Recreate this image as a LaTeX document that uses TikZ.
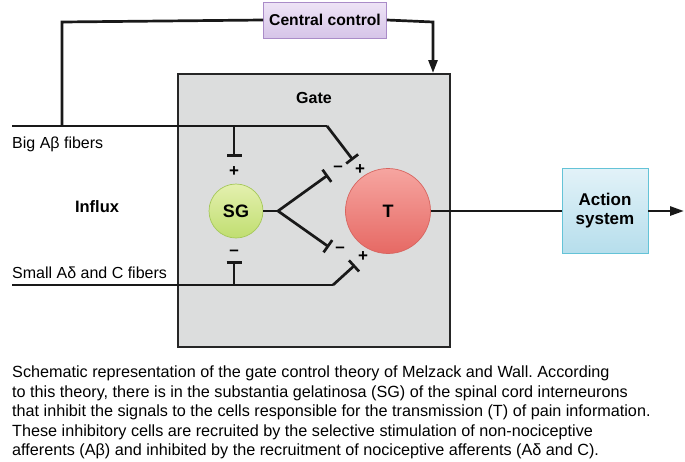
\documentclass[tikz,border=0pt]{standalone}
\usepackage{fontspec}
\setmainfont{Liberation Sans}
\usetikzlibrary{arrows.meta, positioning}
\frenchspacing

\definecolor{gatefill}{RGB}{220,221,221}
\definecolor{cctop}{RGB}{238,228,246}
\definecolor{ccbot}{RGB}{214,196,232}
\definecolor{ccline}{RGB}{170,140,200}
\definecolor{sgtop}{RGB}{228,240,175}
\definecolor{sgbot}{RGB}{192,222,112}
\definecolor{sgline}{RGB}{165,200,90}
\definecolor{ttop}{RGB}{246,165,160}
\definecolor{tbot}{RGB}{230,105,100}
\definecolor{tline}{RGB}{215,100,95}
\definecolor{actop}{RGB}{226,242,248}
\definecolor{acbot}{RGB}{182,222,236}
\definecolor{acline}{RGB}{100,195,215}

\tikzset{
  fiber/.style={line width=2.7pt, black!90},
  inhib/.style={fiber, -{Bar[width=15pt, line width=2.7pt]}},
  sign/.style={font=\fontsize{17}{17}\selectfont\bfseries, inner sep=0pt},
  label/.style={font=\fontsize{16}{18}\selectfont, inner sep=0pt},
  cell/.style={circle, draw, line width=0.7pt, font=\fontsize{18}{20}\selectfont\bfseries},
}

\begin{document}
\begin{tikzpicture}[x=1pt, y=-1pt]
  \useasboundingbox (0,0) rectangle (685,461);
  % Boxes
  \node[draw=black!85, line width=2pt, fill=gatefill, minimum width=272pt, minimum height=273pt] (gate) at (314,210) {};
  \node[font=\fontsize{16}{18}\selectfont\bfseries] (gatelbl) at (314,98) {Gate};
  \node[draw=ccline, line width=0.9pt, top color=cctop, bottom color=ccbot, minimum width=123pt, minimum height=36pt, font=\fontsize{15.7}{18}\selectfont\bfseries] (central) at (325,20) {Central control};
  \node[draw=acline, line width=0.9pt, top color=actop, bottom color=acbot, minimum width=86pt, minimum height=85pt, align=center, font=\fontsize{17}{19}\selectfont\bfseries] (action) at (605,211) {Action\\system};
  % Cells
  \node[cell, draw=sgline, top color=sgtop, bottom color=sgbot, minimum size=54pt] (sg) at (236,211) {SG};
  \node[cell, draw=tline, top color=ttop, bottom color=tbot, minimum size=85pt] (t) at (388,211) {T};
  % Fibers
  \coordinate (bigin) at (12,126);
  \coordinate (tap) at (62,126);
  \coordinate (bigbend) at (327,126);
  \coordinate (bigend) at (353,160);
  \coordinate (smallin) at (12,285);
  \coordinate (smallbend) at (333,285);
  \coordinate (smallend) at (355,265);
  \draw[fiber] (bigin) -- (bigbend);
  \draw[inhib] (bigbend) -- (bigend);
  \draw[fiber] (smallin) -- (smallbend);
  \draw[inhib] (smallbend) -- (smallend);
  \draw[inhib] (234,126) -- (234,157);
  \draw[inhib] (234,285) -- (234,261);
  % SG to T
  \coordinate (fork) at (278,211);
  \draw[fiber] (sg.east) -- (fork);
  \draw[inhib] (fork) -- (328,175);
  \draw[inhib] (fork) -- (329,247);
  % Central control loop
  \coordinate (loopup) at (62,22);
  \coordinate (loopdown) at (433,22);
  \draw[fiber] (tap) -- (loopup) -- (central.west);
  \draw[fiber, -{Triangle[width=9pt, length=13pt]}] (central.east) -- (loopdown) -- (433,73);
  % Output
  \draw[fiber] (t.east) -- (action.west);
  \coordinate (out) at (684,211);
  \draw[fiber, -{Triangle[width=9pt, length=14pt]}] (action.east) -- (out);
  % Signs
  \node[sign] (p1) at (234,172) {+};
  \node[sign] (m1) at (234,253) {–};
  \node[sign] (m2) at (338,169) {–};
  \node[sign] (p2) at (360,170) {+};
  \node[sign] (m3) at (340,250) {–};
  \node[sign] (p3) at (363,257) {+};
  % Labels
  \node[label, anchor=west] (biglbl) at (12,144) {Big Aβ fibers};
  \node[label, anchor=west] (smalllbl) at (12,273) {Small Aδ and C fibers};
  \node[label, font=\fontsize{16.5}{18}\selectfont\bfseries] (influx) at (97,207) {Influx};
  \node[label, anchor=north west, align=left, font=\fontsize{16.2}{19.5}\selectfont] (caption) at (12,366) {Schematic representation of the gate control theory of Melzack and Wall. According\\to this theory, there is in the substantia gelatinosa (SG) of the spinal cord interneurons\\that inhibit the signals to the cells responsible for the transmission (T) of pain information.\\These inhibitory cells are recruited by the selective stimulation of non-nociceptive\\afferents (Aβ) and inhibited by the recruitment of nociceptive afferents (Aδ and C).};
\end{tikzpicture}
\end{document}
